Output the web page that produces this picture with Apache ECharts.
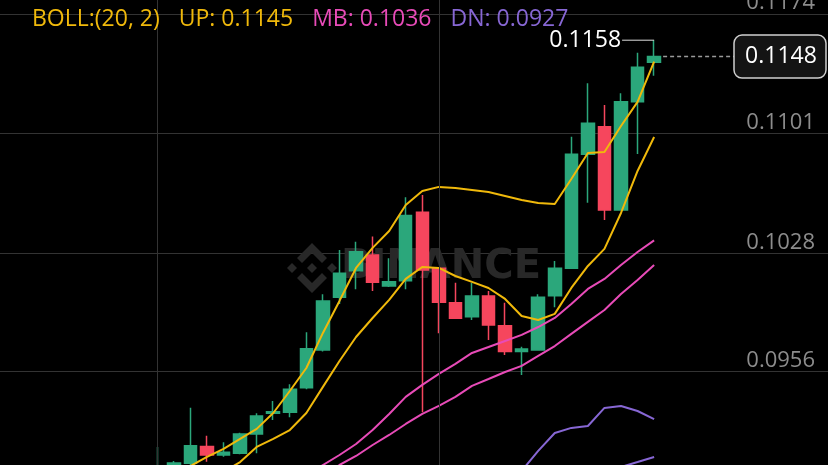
<!DOCTYPE html>
<html>
<head>
<meta charset="utf-8">
<script src="https://cdn.jsdelivr.net/npm/echarts@6/dist/echarts.min.js"></script>
<style>
  html, body { margin: 0; padding: 0; background: #000; }
  #chart { width: 828px; height: 465px; }
</style>
</head>
<body>
<div id="chart"></div>
<script>
// slots on the x axis, candles start at slot 10
var categories = ['1','2','3','4','5','6','7','8','9','10','11','12','13','14','15','16','17','18','19','20',
  '21','22','23','24','25','26','27','28','29','30','31','32','33','34','35','36','37','38','39','40',
  '41','42','43','44','45','46','47','48','49','50'];
var candleStart = 9;

var openData  = [0.08839, 0.08900, 0.09002, 0.09103, 0.09052, 0.09062, 0.09180, 0.09306, 0.09312, 0.09462, 0.09692,
  0.10013, 0.10175, 0.10271, 0.10082, 0.10114, 0.10531, 0.10190, 0.09980, 0.09895, 0.10021,
  0.09840, 0.09682, 0.09692, 0.10023, 0.10190, 0.10885, 0.11053, 0.10545, 0.11205, 0.11446];
var closeData = [0.08973, 0.09003, 0.09109, 0.09052, 0.09069, 0.09180, 0.09290, 0.09316, 0.09453, 0.09700, 0.09991,
  0.10160, 0.10291, 0.10105, 0.10108, 0.10511, 0.10180, 0.09983, 0.09885, 0.10021, 0.09844,
  0.09682, 0.09698, 0.10013, 0.10190, 0.10885, 0.11074, 0.10545, 0.11205, 0.11415, 0.1148];
var lowData   = [0.08808, 0.08869, 0.08961, 0.09011, 0.09042, 0.09056, 0.09062, 0.09265, 0.09282, 0.09453, 0.09682,
  0.09972, 0.10062, 0.10052, 0.10076, 0.10062, 0.09312, 0.09794, 0.09881, 0.09875, 0.09753,
  0.09662, 0.09540, 0.09692, 0.09952, 0.10190, 0.10590, 0.10484, 0.10545, 0.10887, 0.11364];
var highData  = [0.09101, 0.09016, 0.09340, 0.09170, 0.09130, 0.09188, 0.09306, 0.09381, 0.09483, 0.09800, 0.10032,
  0.10302, 0.10352, 0.10383, 0.10251, 0.10623, 0.10637, 0.10195, 0.10102, 0.10102, 0.10052,
  0.09980, 0.09712, 0.10032, 0.10235, 0.10992, 0.11318, 0.11185, 0.11257, 0.11504, 0.1158];

// BOLL lines
var upData  = [0.08839, 0.08912, 0.08985, 0.09040, 0.09089, 0.09150, 0.09211, 0.09308, 0.09442, 0.09582, 0.09796,
  0.09991, 0.10192, 0.10314, 0.10417, 0.10576, 0.10661, 0.10686, 0.10679, 0.10667, 0.10655,
  0.10631, 0.10606, 0.10588, 0.10582, 0.10734, 0.10893, 0.10899, 0.11057, 0.11204, 0.1145];
var up2Data = [0.08717, 0.08778, 0.08839, 0.08900, 0.08949, 0.09009, 0.09101, 0.09150, 0.09204, 0.09308, 0.09467,
  0.09625, 0.09771, 0.09887, 0.09997, 0.10125, 0.10198, 0.10192, 0.10143, 0.10107, 0.10070,
  0.10003, 0.09899, 0.09875, 0.09912, 0.10070, 0.10204, 0.10308, 0.10527, 0.10783, 0.10990];
var mbData  = [0.08412, 0.08461, 0.08510, 0.08565, 0.08619, 0.08674, 0.08735, 0.08796, 0.08857, 0.08924, 0.08991,
  0.09052, 0.09119, 0.09204, 0.09302, 0.09406, 0.09479, 0.09546, 0.09607, 0.09674, 0.09710,
  0.09747, 0.09784, 0.09832, 0.09887, 0.09972, 0.10064, 0.10125, 0.10210, 0.10289, 0.1036];
var mb2Data = [0.08376, 0.08424, 0.08473, 0.08528, 0.08583, 0.08638, 0.08693, 0.08747, 0.08808, 0.08869, 0.08930,
  0.08991, 0.09046, 0.09113, 0.09174, 0.09241, 0.09302, 0.09351, 0.09406, 0.09473, 0.09515,
  0.09558, 0.09595, 0.09656, 0.09716, 0.09790, 0.09863, 0.09936, 0.10033, 0.10119, 0.10210];
var dnData  = [null, null, null, null, null, null, null, null, null, null, null,
  null, null, null, null, null, null, null, null, null, null,
  0.08839, 0.08955, 0.09077, 0.09186, 0.09217, 0.09229, 0.09339, 0.09351, 0.09320, 0.0927];
var dn2Data = [null, null, null, null, null, null, null, null, null, null, null,
  null, null, null, null, null, null, null, null, null, null,
  null, null, null, null, null, 0.08918, 0.08949, 0.08979, 0.09009, 0.09040];

var yTicks = [0.0956, 0.1028, 0.1101, 0.1174];
var yMin = 0.08991, yMax = 0.11825;
var bollParams = '(20, 2)';

var YELLOW = '#F0B90B', PINK = '#E84BB8', PURPLE = '#8767D4';
var GREEN = '#2BA77B', RED = '#F6465D';
var FONT = 'Open Sans';

function pad(arr) {
    return categories.map(function (c, k) {
        var j = k - candleStart;
        return (j >= 0 && j < arr.length && arr[j] != null) ? arr[j] : '-';
    });
}

var candles = categories.map(function (c, k) {
    var j = k - candleStart;
    if (j < 0 || j >= openData.length) return '-';
    return [openData[j], closeData[j], lowData[j], highData[j]];
});

function lineSeries(name, arr, color) {
    return {
        name: name, type: 'line', data: pad(arr), showSymbol: false, z: 4,
        lineStyle: { color: color, width: 2 }, silent: true
    };
}

var last = openData.length - 1;
var lastPrice = closeData[last];
var highPrice = Math.max.apply(null, highData);
var highIdx = highData.indexOf(highPrice);

var legendStyle = function (color, gap) {
    return { color: color, fontSize: 23, fontFamily: FONT, fontWeight: 'normal', padding: [0, gap, 0, 0] };
};

var chart = echarts.init(document.getElementById('chart'));
chart.setOption({
    animation: false,
    backgroundColor: '#000',
    title: {
        left: 32, top: 8, padding: 0,
        text: '{y|BOLL:' + bollParams + '}{y|UP: ' + upData[last].toFixed(4) + '}{p|MB: ' + mbData[last].toFixed(4) +
            '}{v|DN: ' + dnData[last].toFixed(4) + '}',
        textStyle: {
            fontWeight: 'normal', fontFamily: FONT, fontSize: 23,
            rich: { y: legendStyle(YELLOW, 19), p: legendStyle(PINK, 19), v: legendStyle(PURPLE, 0) }
        }
    },
    grid: { left: 0, right: 0, top: 0, bottom: 0, outerBoundsMode: 'none', containLabel: false },
    xAxis: {
        type: 'category', data: categories, boundaryGap: true,
        axisLine: { show: false }, axisTick: { show: false }, axisLabel: { show: false }, splitLine: { show: false }
    },
    yAxis: {
        type: 'value', min: yMin, max: yMax, position: 'right',
        axisLine: { show: false },
        axisTick: { show: false, customValues: yTicks },
        axisLabel: {
            customValues: yTicks, inside: true, margin: 13,
            color: '#8c8c8c', fontSize: 22, fontFamily: FONT, verticalAlign: 'bottom', padding: [0, 0, 0, 0],
            formatter: function (v) { return v.toFixed(4); }
        },
        splitLine: { show: true, lineStyle: { color: '#333', width: 1 } }
    },
    series: [
        {
            name: 'K', type: 'candlestick', data: candles, barWidth: 13, z: 3,
            itemStyle: { color: GREEN, color0: RED, borderColor: GREEN, borderColor0: RED, borderWidth: 1.5 }
        },
        lineSeries('UP', upData, YELLOW),
        lineSeries('UP2', up2Data, YELLOW),
        lineSeries('MB', mbData, PINK),
        lineSeries('MB2', mb2Data, PINK),
        lineSeries('DN', dnData, PURPLE),
        lineSeries('DN2', dn2Data, PURPLE),
        {
            // vertical grid lines, kept under the candles
            type: 'line', data: [], z: 1, silent: true,
            markLine: {
                symbol: 'none', silent: true, animation: false,
                lineStyle: { color: '#333', width: 1, type: 'solid' },
                label: { show: false },
                data: [{ xAxis: categories[candleStart] }, { xAxis: categories[candleStart + 17] }]
            }
        }
    ]
});

var pLast = chart.convertToPixel({ seriesIndex: 0 }, [categories[candleStart + last], lastPrice]);
var pHigh = chart.convertToPixel({ seriesIndex: 0 }, [categories[candleStart + highIdx], highPrice]);

// binance logo pieces, unit box 100x100
var logoPolys = [
    [[50, 0], [80, 30], [70, 40], [50, 20], [30, 40], [20, 30]],
    [[50, 100], [80, 70], [70, 60], [50, 80], [30, 60], [20, 70]],
    [[0, 50], [10, 40], [20, 50], [10, 60]],
    [[80, 50], [90, 40], [100, 50], [90, 60]],
    [[40, 50], [50, 40], [60, 50], [50, 60]]
];

chart.setOption({
    graphic: [
        {
            type: 'group', x: 287, y: 243, scaleX: 0.5, scaleY: 0.5, z: 0, silent: true,
            children: logoPolys.map(function (pts) {
                return { type: 'polygon', shape: { points: pts }, style: { fill: '#282828' }, z: 0 };
            })
        },
        {
            type: 'text', x: 341, y: 268, z: 0, silent: true,
            style: {
                text: 'BINANCE', fill: '#282828', fontSize: 40, fontWeight: 'bold',
                fontFamily: 'DejaVu Sans', verticalAlign: 'middle'
            }
        },
        {
            type: 'line', z: 10, silent: true,
            shape: { x1: pLast[0] + 9, y1: pLast[1], x2: 734, y2: pLast[1] },
            style: { stroke: '#9a9a9a', lineWidth: 1.5, lineDash: [4, 3] }
        },
        {
            type: 'rect', z: 10, silent: true,
            shape: { x: 734, y: pLast[1] - 21.5, width: 92, height: 43, r: 8 },
            style: { fill: '#141414', stroke: '#cfcfcf', lineWidth: 1.5 }
        },
        {
            type: 'text', z: 11, silent: true, x: 781, y: pLast[1],
            style: {
                text: lastPrice.toFixed(4), fill: '#fff', fontSize: 23, fontFamily: FONT,
                align: 'center', verticalAlign: 'middle'
            }
        },
        {
            type: 'line', z: 10, silent: true,
            shape: { x1: pHigh[0] - 32, y1: pHigh[1], x2: pHigh[0], y2: pHigh[1] },
            style: { stroke: '#e0e0e0', lineWidth: 1 }
        },
        {
            type: 'text', z: 11, silent: true, x: pHigh[0] - 33, y: pHigh[1],
            style: {
                text: highPrice.toFixed(4), fill: '#fff', fontSize: 23, fontFamily: FONT,
                align: 'right', verticalAlign: 'middle'
            }
        }
    ]
});
</script>
</body>
</html>
